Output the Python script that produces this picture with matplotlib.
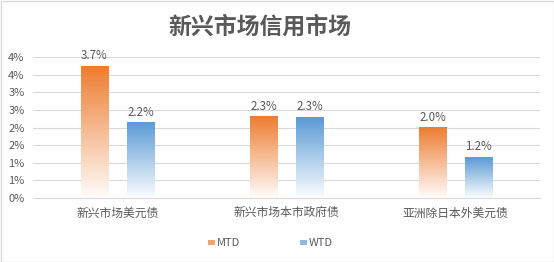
import matplotlib
matplotlib.use("Agg")
import matplotlib.pyplot as plt
import numpy as np
from matplotlib.colors import LinearSegmentedColormap
from matplotlib.patches import Rectangle

plt.rcParams['font.family'] = ['Noto Sans CJK SC', 'DejaVu Sans']

title = "新兴市场信用市场"
categories = ["新兴市场美元债", "新兴市场本市政府债", "亚洲除日本外美元债"]
series_names = ["MTD", "WTD"]
mtd = [3.74, 2.30, 1.99]
wtd = [2.13, 2.28, 1.16]
value_labels = [["3.7%", "2.3%", "2.0%"], ["2.2%", "2.3%", "1.2%"]]
yticks = [0, 0.5, 1.0, 1.5, 2.0, 2.5, 3.0, 3.5, 4.0]
ytick_labels = ["0%", "1%", "1%", "2%", "2%", "3%", "3%", "4%", "4%"]

colors = ["#ED7D31", "#5B9BD5"]
grey = "#595959"

fig = plt.figure(figsize=(5.54, 2.62), dpi=100)
ax = fig.add_axes([33/554, 1-198/262, (540-33)/554, (198-57)/262])

x = np.arange(len(categories))
w = 0.16
offs = [-0.136, 0.136]

for si, vals in enumerate([mtd, wtd]):
    cmap = LinearSegmentedColormap.from_list("g", ["#FFFFFF", colors[si]])
    bars = ax.bar(x + offs[si], vals, width=w, facecolor="none", edgecolor="none")
    for b, lab in zip(bars, value_labels[si]):
        x0, h = b.get_x(), b.get_height()
        g = np.linspace(0.02, 1.0, 256).reshape(-1, 1)
        ax.imshow(g, extent=[x0, x0 + b.get_width(), 0, h], origin="lower",
                  aspect="auto", cmap=cmap, vmin=0, vmax=1, zorder=3)
        ax.annotate(lab, (x0 + b.get_width()/2, h), xytext=(0, 3),
                    textcoords="offset points", ha="center", va="bottom",
                    fontsize=8.3, color=grey)

ax.set_xlim(-0.5, len(categories) - 0.5)
ax.set_ylim(0, 4.0)
ax.set_yticks(yticks)
ax.set_yticklabels(ytick_labels, fontsize=8, color=grey)
ax.set_xticks(x)
ax.set_xticklabels(categories, fontsize=8.5, color=grey)
ax.tick_params(axis="both", length=0)
ax.tick_params(axis="x", pad=6)
ax.tick_params(axis="y", pad=6)
ax.grid(axis="y", color="#D9D9D9", linewidth=0.8, zorder=0)
ax.set_axisbelow(True)
for s in ["top", "right", "left"]:
    ax.spines[s].set_visible(False)
ax.spines["bottom"].set_color("#D9D9D9")
ax.spines["bottom"].set_linewidth(0.8)

fig.text(260/554, 1 - 27/262, title, ha="center", va="center", fontsize=16.5,
         fontweight="bold", color=grey)

# legend
leg_pos = [208, 300]
for si, name in enumerate(series_names):
    px = leg_pos[si]
    fig.add_artist(Rectangle((px/554, 1 - 245/262), 7/554, 5/262,
                             transform=fig.transFigure, facecolor=colors[si],
                             alpha=0.7, edgecolor="none"))
    fig.text((px + 9)/554, 1 - 243/262, name, ha="left", va="center",
             fontsize=8, color=grey)

# border
fig.add_artist(Rectangle((0.5/554, 0.5/262), 553/554, 261/262, transform=fig.transFigure,
                         facecolor="none", edgecolor="#D9D9D9", linewidth=1))

fig.savefig("out.png", dpi=100)
